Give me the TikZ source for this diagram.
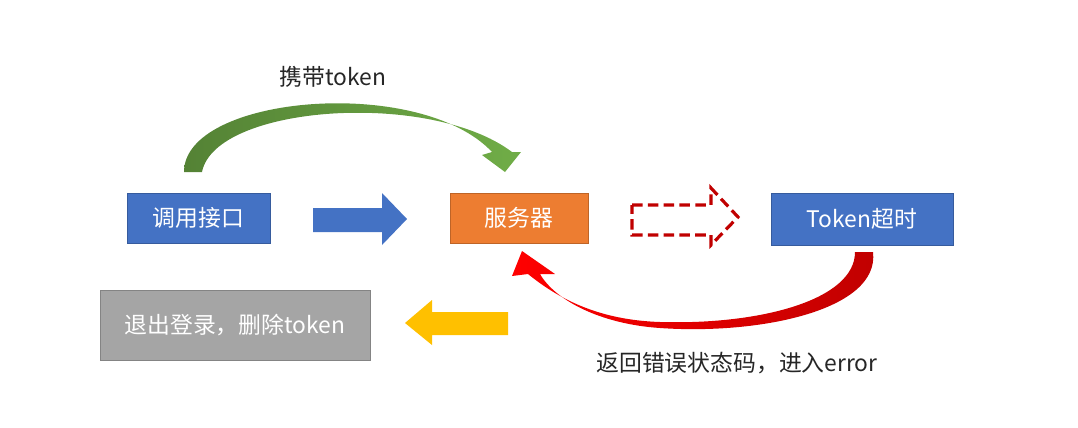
\documentclass[tikz,border=0pt]{standalone}
\usepackage{fontspec}
\setmainfont{Noto Sans CJK SC}
\definecolor{boxblue}{HTML}{4472C4}
\definecolor{boxorange}{HTML}{ED7D31}
\definecolor{boxgray}{HTML}{A5A5A5}
\definecolor{darkred}{HTML}{C00000}
\definecolor{amber}{HTML}{FFC000}
\definecolor{olive}{HTML}{548235}
\definecolor{leaf}{HTML}{70AD47}
\tikzset{
  box/.style={draw=#1!80!black, fill=#1, text=white, font=\fontsize{13}{15}\selectfont, inner sep=0pt},
  label text/.style={font=\fontsize{13}{15}\selectfont, text=black!85}
}
\begin{document}
\begin{tikzpicture}[x=0.02cm, y=-0.02cm]
        \useasboundingbox (0,0) rectangle (1078,427) ;

        \node [box=boxblue, minimum width=143*0.02cm, minimum height=50*0.02cm] (call) at (198.5,218) {调用接口} ;
        \node [box=boxorange, minimum width=138*0.02cm, minimum height=50*0.02cm] (server) at (519,218) {服务器} ;
        \node [box=boxblue, minimum width=182*0.02cm, minimum height=52*0.02cm] (timeout) at (862,219) {Token超时} ;
        \node [box=boxgray, minimum width=270*0.02cm, minimum height=70*0.02cm] (logout) at (235,325) {退出登录，删除token} ;

        \fill [boxblue] (313,208) -- (382,208) -- (382,193) -- (407,219) -- (382,245) -- (382,232) -- (313,232) -- cycle ;
        \draw [darkred, line width=1.8pt, dash pattern=on 6pt off 3pt] (632,205) -- (711,205) -- (711,188) -- (738,217) -- (711,245) -- (711,235) -- (632,235) -- cycle ;
        \fill [amber] (508,312) -- (432,312) -- (432,300) -- (405,323) -- (432,345) -- (432,335) -- (508,335) -- cycle ;

        \shade [left color=olive, right color=leaf] (184,172) .. controls (184,95) and (420,75) .. (492,152)
          -- (482,155) -- (505,172) -- (521,152) -- (512,152) .. controls (430,90) and (215,105) .. (202,172) -- cycle ;
        \node [label text] (carry) at (333,77) {携带token} ;

        \shade [left color=red, right color=darkred] (873,252) .. controls (880,310) and (760,335) .. (660,328) .. controls (600,324) and (555,300) .. (540,274)
          -- (555,274) -- (522,251) -- (512,276) -- (528,274) .. controls (560,300) and (600,320) .. (660,322) .. controls (760,325) and (855,300) .. (855,252) -- cycle ;
        \node [label text] (errmsg) at (737,363) {返回错误状态码，进入error} ;
\end{tikzpicture}
\end{document}
